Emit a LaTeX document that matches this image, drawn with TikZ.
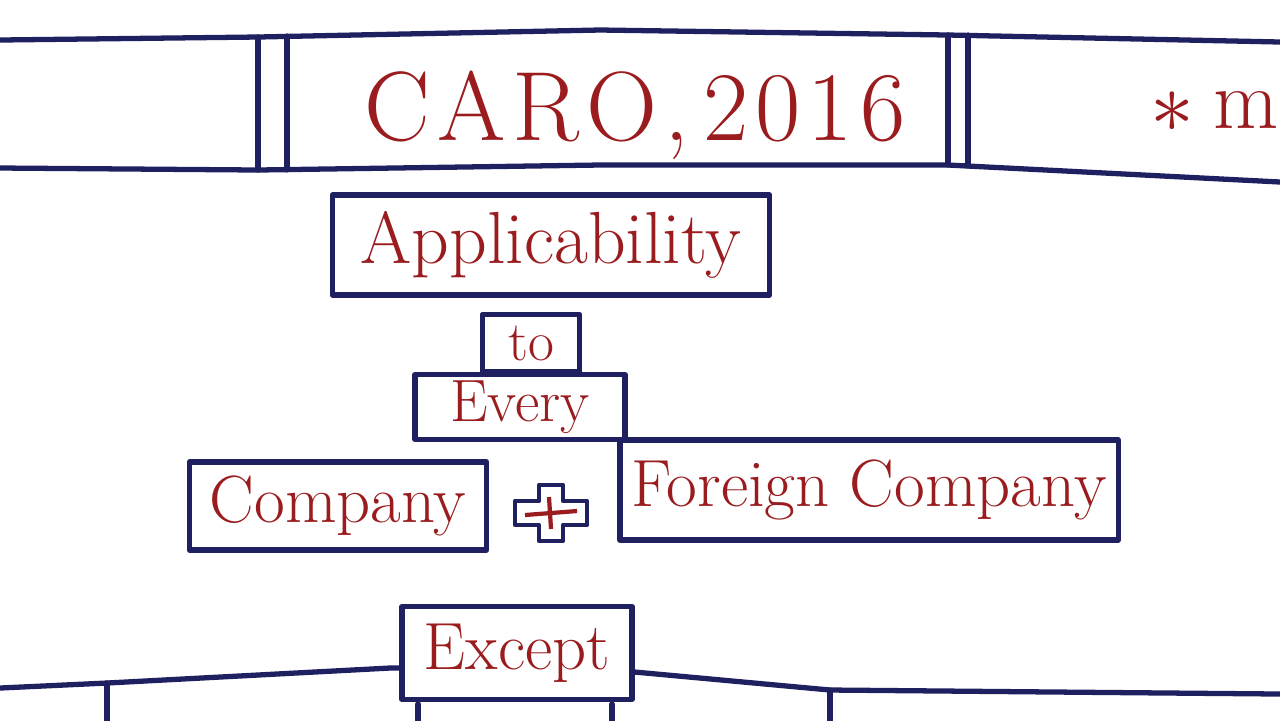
\documentclass[tikz,border=0pt]{standalone}
\usepackage{fontspec}
\usepackage{tikz}
\usetikzlibrary{positioning}
\definecolor{inkblue}{HTML}{1E2060}
\definecolor{inkred}{HTML}{9A1C1E}

\begin{document}
\begin{tikzpicture}[x=0.01cm,y=-0.01cm,
   pen/.style={draw=inkblue,line width=1.5pt,line join=round,line cap=round},
   word box/.style={pen,text=inkred,inner sep=0pt,font=\fontsize{19}{21}\selectfont},
   big word/.style={text=inkred,inner sep=0pt,font=\fontsize{28}{30}\selectfont}]

  \useasboundingbox (0,0) rectangle (1280,720);
  \clip (0,0) rectangle (1280,720);

  % top band
  \draw[pen] (0,40) -- (258,37) -- (600,30) -- (948,35) -- (1280,42);
  \draw[pen] (0,168) -- (258,170) -- (600,165) -- (948,165) -- (1280,182);
  \foreach \x/\ya/\yb in {258/37/170,287/36/170,948/35/165,968/35/166}
    \draw[pen] (\x,\ya) -- (\x,\yb);

  \node[big word] (title) at (635,115)
    {C\kern2pt A\kern2pt R\kern2pt O\kern2pt,\kern4pt 2\kern2pt 0\kern2pt 1\kern2pt 6};
  \node[big word] (star) at (1172,112) {$\ast$};
  \node[big word,anchor=east,font=\fontsize{24}{26}\selectfont] (mark) at (1279,110) {m};

  % boxes
  \node[word box,minimum width=4.37cm,minimum height=1cm,
        font=\fontsize{21}{23}\selectfont] (applic) at (551,245) {Applicability};
  \node[word box,minimum width=0.97cm,minimum height=0.57cm,
        font=\fontsize{16}{18}\selectfont] (to) at (531,343) {to};
  \node[word box,minimum width=2.1cm,minimum height=0.65cm,
        font=\fontsize{17}{19}\selectfont] (every) at (520,407) {Every};
  \node[word box,minimum width=2.97cm,minimum height=0.88cm] (company) at (338,506) {Company};
  \node[word box,minimum width=4.98cm,minimum height=1cm] (foreign) at (869,490) {Foreign Company};
  \node[word box,minimum width=2.3cm,minimum height=0.93cm] (except) at (517,653) {Except};

  % plus between the two boxes
  \coordinate (plus) at (551,513);
  \draw[pen,line width=1.3pt] (plus) ++(-12,-28) -- ++(24,0) -- ++(0,16) -- ++(24,0) -- ++(0,24)
    -- ++(-24,0) -- ++(0,16) -- ++(-24,0) -- ++(0,-16) -- ++(-24,0) -- ++(0,-24) -- ++(24,0) -- cycle;
  \draw[inkred,line width=1.2pt] (plus) ++(-26,2) -- ++(52,-4);
  \draw[inkred,line width=1.2pt] (plus) ++(-2,-16) -- ++(2,32);

  % bottom band
  \coordinate (bl) at (0,688);
  \coordinate (lk) at (107,683);
  \coordinate (lj) at (390,668);
  \coordinate (rj) at (640,672);
  \coordinate (rk) at (830,690);
  \coordinate (br) at (1280,694);
  \draw[pen] (bl) -- (lk) -- (lj) -- (except.west |- lj);
  \draw[pen] (except.east |- rj) -- (rk) -- (br);
  \foreach \x/\y in {107/683,830/690,418/704,612/704}
    \draw[pen] (\x,\y) -- (\x,725);
\end{tikzpicture}
\end{document}
